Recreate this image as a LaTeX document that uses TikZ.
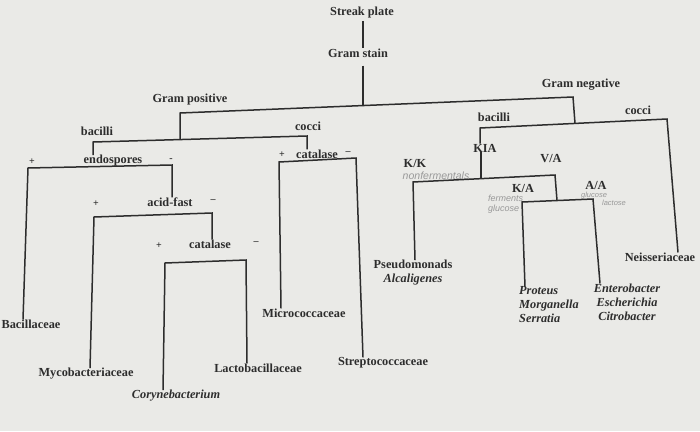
\documentclass[tikz,border=0pt]{standalone}
\usepackage{fontspec}
\setmainfont{Liberation Serif}
\setsansfont{Liberation Sans}
\usepackage{xcolor}
\usepackage{tikz}
\definecolor{paper}{RGB}{234,234,231}
\definecolor{ink}{RGB}{45,45,45}

\begin{document}
\begin{tikzpicture}[
    x=1pt, y=-1pt,
    lbl/.style={
      font=\fontsize{12.3}{14}\selectfont\bfseries,
      text=ink, inner sep=0pt, align=center
    },
    genus/.style={
      lbl, font=\fontsize{12.3}{14}\selectfont\bfseries\itshape
    },
    sgn/.style={
      font=\fontsize{10}{12}\selectfont\bfseries,
      text=ink, inner sep=0pt
    },
    hand/.style={
      font=\fontsize{9}{10}\selectfont\sffamily\itshape,
      text=black!40, inner sep=0pt, align=left
    },
    branch/.style={draw=ink, line width=1.5pt}
  ]

    \fill[paper] (0,0) rectangle (700,431);
    \useasboundingbox (0,0) rectangle (700,431);

    % top of the key
    \node[lbl] (streak) at (362,13) {Streak plate};
    \node[lbl] (stain)  at (358,53) {Gram stain};
    \node[lbl] (gpos)   at (190,100) {Gram positive};
    \node[lbl] (gneg)   at (581,85) {Gram negative};

    % Gram positive side
    \node[lbl] (pbac)  at (97,131)  {bacilli};
    \node[lbl] (pcoc)  at (308,126) {cocci};
    \node[lbl] (endo)  at (113,161) {endospores};
    \node[lbl] (cata)  at (317,154) {catalase};
    \node[lbl] (acid)  at (170,202) {acid-fast};
    \node[lbl] (catb)  at (210,244) {catalase};

    \node[sgn] (endoP) at (32,162)  {+};
    \node[sgn] (endoM) at (171,160) {-};
    \node[sgn] (cataP) at (282,155) {+};
    \node[sgn] (cataM) at (348,153) {--};
    \node[sgn] (acidP) at (96,204)  {+};
    \node[sgn] (acidM) at (213,201) {--};
    \node[sgn] (catbP) at (159,246) {+};
    \node[sgn] (catbM) at (256,243) {--};

    \node[lbl]   (bacil) at (31,324)  {Bacillaceae};
    \node[lbl]   (myco)  at (86,374)  {Mycobacteriaceae};
    \node[genus] (cory)  at (176,396) {Corynebacterium};
    \node[lbl]   (lacto) at (258,368) {Lactobacillaceae};
    \node[lbl]   (micro) at (304,313) {Micrococcaceae};
    \node[lbl]   (strep) at (383,363) {Streptococcaceae};

    % Gram negative side
    \node[lbl] (nbac) at (494,117) {bacilli};
    \node[lbl] (ncoc) at (638,110) {cocci};
    \node[lbl] (kia)  at (485,148) {KIA};
    \node[lbl] (kk)   at (415,164) {K/K};
    \node[lbl] (va)   at (551,159) {V/A};
    \node[lbl] (ka)   at (523,188) {K/A};
    \node[lbl] (aa)   at (596,185) {A/A};

    % pencil notes
    \node[hand] (nonf)  at (436,176) {\fontsize{10.5}{11}\selectfont nonfermentals};
    \node[hand, anchor=west] (ferm) at (488,204) {ferments\\glucose};
    \node[hand] (glucA) at (594,196) {\fontsize{7.5}{8}\selectfont glucose};
    \node[hand] (glucB) at (614,203) {\fontsize{7.5}{8}\selectfont lactose};

    \node[lbl] (pseudo) at (413,273)
      {Pseudomonads\\\textit{Alcaligenes}};
    \node[genus, anchor=west, align=left] (proteus) at (519,305)
      {Proteus\\Morganella\\Serratia};
    \node[genus] (entero) at (627,302)
      {Enterobacter\\Escherichia\\Citrobacter};
    \node[lbl] (neiss) at (660,257) {Neisseriaceae};

    % corners of the branches
    \coordinate (root)  at (363,105.5);
    \coordinate (gpTop) at (180,113);
    \coordinate (gpBar) at (180,139.6);
    \coordinate (gnTop) at (573,97);
    \coordinate (gnBar) at (575,123.4);

    \coordinate (pbacC) at (93,142);
    \coordinate (pcocC) at (307,136);
    \coordinate (endoL) at (28,168);
    \coordinate (endoR) at (172,165);
    \coordinate (cataL) at (279,162);
    \coordinate (cataR) at (356,158);
    \coordinate (acidL) at (94,217);
    \coordinate (acidR) at (212,213);
    \coordinate (catbL) at (165,263);
    \coordinate (catbR) at (246,260);

    \coordinate (nbacC) at (480,128);
    \coordinate (ncocC) at (667,119);
    \coordinate (kiaJ)  at (481,178.6);
    \coordinate (kiaL)  at (413,182);
    \coordinate (kiaR)  at (555,175);
    \coordinate (vaJ)   at (557,200.5);
    \coordinate (kaL)   at (522,202);
    \coordinate (aaR)   at (593,199);

    % trunk
    \draw[branch] (streak.south -| root) ++(0,2) -- (stain.north -| root);
    \draw[branch] (stain.south -| root) ++(0,8) -- (root);
    \draw[branch] (gpBar) -- (gpTop) -- (gnTop) -- (gnBar);

    % Gram positive
    \draw[branch] (endo.north -| pbacC) -- (pbacC) -- (pcocC) -- (cata.north -| pcocC);
    \draw[branch] (bacil.north -| 23,0) -- (endoL) -- (endoR) -- (acid.north -| endoR);
    \draw[branch] (micro.north -| 281,0) -- (cataL) -- (cataR) -- (strep.north -| 363,0);
    \draw[branch] (myco.north -| 90,0) -- (acidL) -- (acidR) -- (catb.north -| acidR);
    \draw[branch] (cory.north -| 163,0) -- (catbL) -- (catbR) -- (lacto.north -| 247,0);

    % Gram negative
    \draw[branch] (kia.north -| nbacC) -- (nbacC) -- (ncocC) -- (neiss.north -| 678,0);
    \draw[branch] (kia.south -| kiaJ) -- (kiaJ);
    \draw[branch] (pseudo.north -| 415,0) -- (kiaL) -- (kiaR) -- (vaJ);
    \draw[branch] (proteus.north -| 525,0) -- (kaL) -- (aaR) -- (entero.north -| 600,0);
  \end{tikzpicture}
\end{document}
